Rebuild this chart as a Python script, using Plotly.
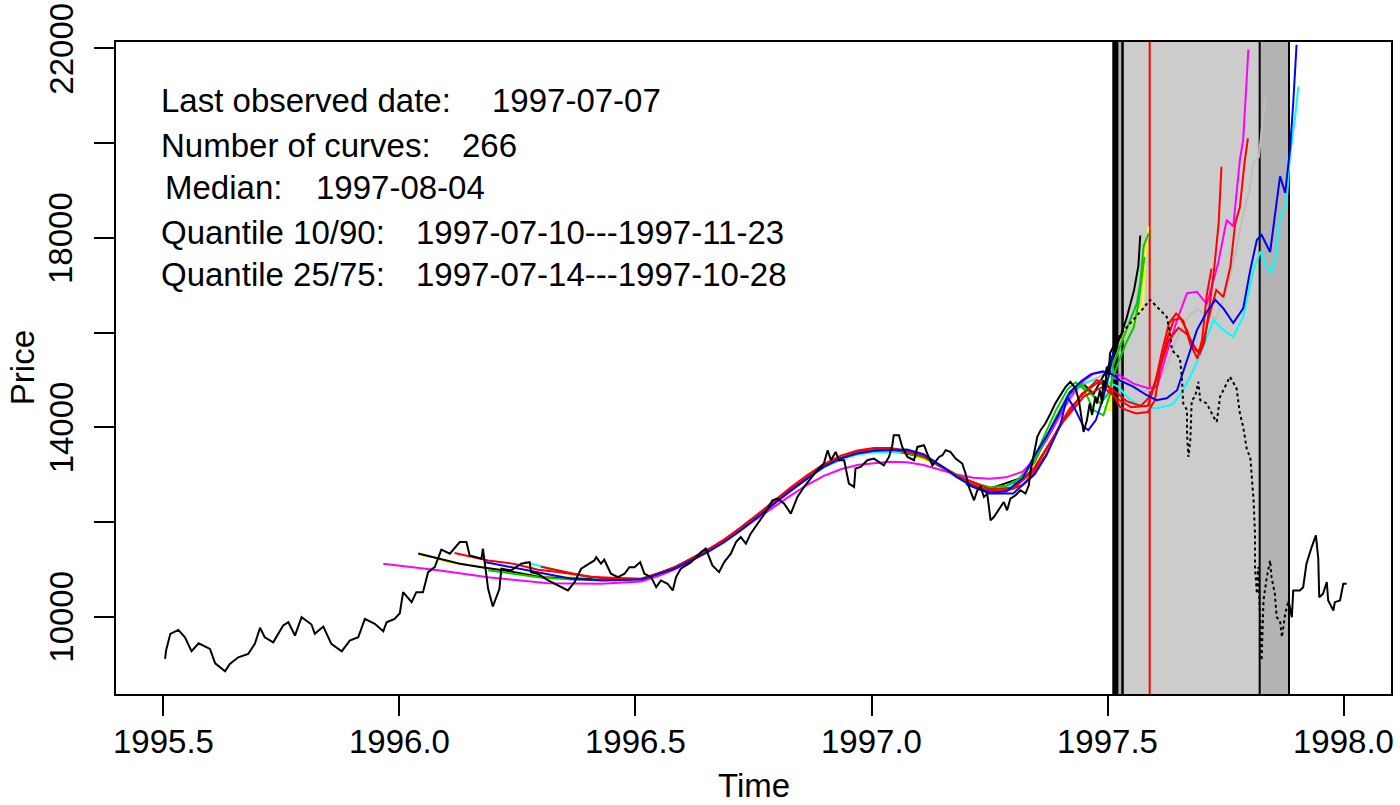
import plotly.graph_objects as go

# ---------------- data ----------------
# observed price (decimal year, price)
price_obs = [
    (1995.504, 9105), (1995.506, 9280), (1995.515, 9634), (1995.532, 9718), (1995.546, 9562),
    (1995.560, 9266), (1995.575, 9435), (1995.599, 9316), (1995.610, 9012), (1995.631, 8842),
    (1995.641, 8999), (1995.659, 9139), (1995.680, 9211), (1995.694, 9422), (1995.705, 9761),
    (1995.715, 9562), (1995.733, 9456), (1995.754, 9810), (1995.765, 9879), (1995.779, 9598),
    (1995.793, 9985), (1995.814, 9831), (1995.821, 9634), (1995.839, 9788), (1995.856, 9422),
    (1995.878, 9266), (1995.895, 9492), (1995.913, 9562), (1995.927, 9951), (1995.948, 9845),
    (1995.966, 9689), (1995.973, 9879), (1995.990, 9951), (1996.001, 10070), (1996.008, 10514),
    (1996.026, 10303), (1996.036, 10514), (1996.050, 10514), (1996.061, 10938), (1996.075, 11043),
    (1996.089, 11412), (1996.107, 11327), (1996.128, 11573), (1996.142, 11573), (1996.149, 11291),
    (1996.174, 11221), (1996.177, 11433), (1996.188, 10586), (1996.198, 10212), (1996.212, 10586),
    (1996.216, 11010), (1996.237, 10974), (1996.258, 11115), (1996.276, 11149), (1996.279, 10938),
    (1996.293, 10904), (1996.315, 10762), (1996.336, 10656), (1996.357, 10550), (1996.371, 10726),
    (1996.385, 11010), (1996.413, 11185), (1996.417, 11255), (1996.427, 11115), (1996.434, 11200),
    (1996.448, 10904), (1996.463, 10832), (1996.477, 10904), (1996.487, 11043), (1996.498, 11043),
    (1996.510, 11149), (1996.519, 10904), (1996.533, 10832), (1996.544, 10620), (1996.554, 10762),
    (1996.568, 10692), (1996.579, 10550), (1996.586, 10832), (1996.596, 11010), (1996.618, 11149),
    (1996.639, 11361), (1996.649, 11433), (1996.663, 11079), (1996.677, 10938), (1996.688, 11149),
    (1996.702, 11327), (1996.713, 11573), (1996.723, 11678), (1996.734, 11538), (1996.744, 11750),
    (1996.759, 11962), (1996.776, 12207), (1996.790, 12455), (1996.801, 12491), (1996.815, 12385),
    (1996.829, 12173), (1996.843, 12525), (1996.857, 12737), (1996.871, 12914), (1996.885, 13090),
    (1996.899, 13232), (1996.907, 13513), (1996.914, 13302), (1996.924, 13477), (1996.931, 13302),
    (1996.942, 13302), (1996.952, 12809), (1996.963, 12737), (1996.966, 13126), (1996.977, 13160),
    (1996.991, 13302), (1997.005, 13337), (1997.026, 13196), (1997.037, 13371), (1997.044, 13619),
    (1997.047, 13831), (1997.058, 13831), (1997.065, 13583), (1997.076, 13371), (1997.090, 13302),
    (1997.097, 13583), (1997.111, 13619), (1997.118, 13443), (1997.129, 13196), (1997.143, 13371),
    (1997.150, 13407), (1997.157, 13513), (1997.167, 13477), (1997.178, 13337), (1997.192, 13232),
    (1997.199, 13020), (1997.206, 12737), (1997.217, 12455), (1997.224, 12667), (1997.231, 12737),
    (1997.238, 12525), (1997.245, 12597), (1997.252, 12032), (1997.259, 12102), (1997.270, 12279),
    (1997.280, 12419), (1997.287, 12243), (1997.294, 12491), (1997.305, 12561), (1997.315, 12667),
    (1997.326, 12597), (1997.333, 12772), (1997.337, 13090), (1997.343, 13371), (1997.351, 13795),
    (1997.358, 13937), (1997.368, 14078), (1997.379, 14290), (1997.389, 14501), (1997.400, 14677),
    (1997.411, 14853), (1997.421, 14959), (1997.432, 14819), (1997.439, 14571), (1997.449, 13900),
    (1997.456, 14148), (1997.462, 14500), (1997.467, 14254), (1997.474, 14650), (1997.477, 14501),
    (1997.484, 14783), (1997.488, 14500), (1997.491, 14995), (1997.495, 14800), (1997.498, 15276),
    (1997.502, 15100), (1997.505, 15560), (1997.510, 15666),
]

# price inside the prediction window (dotted)
price_window = [
    (1997.510, 15666), (1997.526, 15947), (1997.558, 16307), (1997.590, 16688), (1997.625, 16334),
    (1997.632, 15983), (1997.636, 15630), (1997.653, 15454), (1997.657, 15065), (1997.660, 14502),
    (1997.668, 14360), (1997.668, 13867), (1997.671, 13372), (1997.675, 13725), (1997.678, 14571),
    (1997.685, 14641), (1997.692, 14959), (1997.696, 14571), (1997.710, 14502), (1997.724, 14218),
    (1997.731, 14112), (1997.738, 14641), (1997.752, 14925), (1997.759, 15065), (1997.773, 14819),
    (1997.780, 14290), (1997.787, 14006), (1997.795, 13513), (1997.802, 13372), (1997.809, 12455),
    (1997.812, 11750), (1997.812, 11043), (1997.816, 10480), (1997.819, 11043), (1997.826, 9069),
    (1997.830, 10339), (1997.837, 10832), (1997.844, 11185), (1997.847, 10832), (1997.854, 10480),
    (1997.858, 9985), (1997.865, 9915), (1997.869, 9562), (1997.876, 10057), (1997.883, 10339),
]

# price after the window (solid)
price_after = [
    (1997.883, 10339), (1997.890, 9985), (1997.893, 10550), (1997.907, 10550), (1997.914, 10620),
    (1997.921, 11115), (1997.932, 11467), (1997.941, 11714), (1997.946, 11221), (1997.948, 10409),
    (1997.956, 10480), (1997.964, 10726), (1997.967, 10339), (1997.978, 10127), (1997.981, 10303),
    (1997.992, 10339), (1997.999, 10692), (1998.006, 10692),
]

# fitted curves (decimal year, price)
curve_gray = [
    (1997.300, 12750), (1997.345, 13300), (1997.400, 14300), (1997.445, 14900), (1997.490, 15100),
    (1997.530, 15000), (1997.570, 14750), (1997.600, 14800), (1997.625, 15300), (1997.647, 15900),
    (1997.668, 16300), (1997.689, 16500), (1997.710, 16350), (1997.730, 16300), (1997.752, 16900),
    (1997.773, 17800), (1997.787, 18500), (1997.800, 19000), (1997.809, 19590), (1997.820, 19700),
    (1997.830, 20640), (1997.835, 21000),
]
curve_yellow = [
    (1996.040, 11310), (1996.075, 11240), (1996.103, 11150), (1996.150, 11080), (1996.200, 11000),
    (1996.260, 10920), (1996.330, 10850), (1996.400, 10800), (1996.470, 10790), (1996.512, 10800),
    (1996.547, 10910), (1996.582, 11040), (1996.618, 11210), (1996.653, 11400), (1996.688, 11620),
    (1996.723, 11860), (1996.759, 12130), (1996.794, 12410), (1996.829, 12690), (1996.864, 12940),
    (1996.899, 13160), (1996.935, 13330), (1996.970, 13440), (1997.005, 13490), (1997.040, 13490),
    (1997.075, 13440), (1997.110, 13320), (1997.145, 13160), (1997.180, 12960), (1997.215, 12800),
    (1997.250, 12710), (1997.285, 12740), (1997.320, 12920), (1997.345, 13300), (1997.370, 13800),
    (1997.400, 14400), (1997.425, 14800), (1997.445, 14930), (1997.465, 14800), (1997.480, 14500),
    (1997.495, 14400), (1997.505, 14360), (1997.512, 15350), (1997.526, 15700), (1997.537, 16050),
    (1997.558, 16265), (1997.575, 16620), (1997.578, 17320), (1997.586, 18240),
]
curve_black = [
    (1996.040, 11330), (1996.082, 11230), (1996.128, 11115), (1996.174, 11040), (1996.230, 10960),
    (1996.300, 10830), (1996.400, 10790), (1996.512, 10790), (1996.582, 11030), (1996.688, 11600),
    (1996.794, 12400), (1996.899, 13170), (1996.970, 13460), (1997.040, 13510), (1997.110, 13370),
    (1997.180, 12970), (1997.250, 12700), (1997.320, 12940), (1997.370, 13780), (1997.420, 14700),
    (1997.445, 14950), (1997.470, 14700), (1997.500, 15250), (1997.530, 16000), (1997.540, 16300),
    (1997.556, 16900), (1997.565, 17400), (1997.569, 18050),
]
curve_cyan = [
    (1996.265, 11150), (1996.307, 11040), (1996.364, 10900), (1996.430, 10790), (1996.512, 10790),
    (1996.547, 10880), (1996.582, 11000), (1996.618, 11180), (1996.653, 11370), (1996.688, 11590),
    (1996.723, 11840), (1996.759, 12120), (1996.794, 12400), (1996.829, 12680), (1996.864, 12920),
    (1996.899, 13150), (1996.935, 13320), (1996.970, 13420), (1997.005, 13470), (1997.040, 13480),
    (1997.075, 13460), (1997.110, 13360), (1997.145, 13180), (1997.180, 12940), (1997.215, 12760),
    (1997.250, 12680), (1997.285, 12720), (1997.320, 12930), (1997.345, 13330), (1997.370, 13780),
    (1997.395, 14250), (1997.420, 14650), (1997.445, 14900), (1997.470, 15000), (1997.500, 14950),
    (1997.523, 14850), (1997.540, 14650), (1997.560, 14500), (1997.583, 14420), (1997.604, 14400),
    (1997.636, 14470), (1997.655, 14700), (1997.675, 15065), (1997.703, 15700), (1997.724, 16265),
    (1997.745, 16053), (1997.766, 15911), (1997.787, 16334), (1997.809, 17323), (1997.823, 17710),
    (1997.844, 17253), (1997.854, 17465), (1997.865, 18451), (1997.879, 18734), (1997.886, 19721),
    (1997.897, 20567), (1997.904, 21202),
]
curve_magenta = [
    (1995.966, 11115), (1996.082, 10975), (1996.188, 10830), (1996.315, 10705), (1996.427, 10690),
    (1996.512, 10740), (1996.547, 10850), (1996.582, 10990), (1996.618, 11170), (1996.653, 11370),
    (1996.688, 11590), (1996.723, 11830), (1996.759, 12080), (1996.794, 12330), (1996.829, 12560),
    (1996.864, 12780), (1996.899, 12970), (1996.935, 13110), (1996.970, 13200), (1997.005, 13240),
    (1997.040, 13270), (1997.075, 13260), (1997.110, 13200), (1997.145, 13100), (1997.180, 13000),
    (1997.215, 12930), (1997.250, 12910), (1997.285, 12940), (1997.320, 13060), (1997.345, 13320),
    (1997.370, 13720), (1997.395, 14170), (1997.420, 14620), (1997.445, 14950), (1997.470, 15130),
    (1997.500, 15180), (1997.525, 15100), (1997.555, 14920), (1997.587, 14820), (1997.605, 14860),
    (1997.625, 15560), (1997.647, 16265), (1997.668, 16830), (1997.689, 16860), (1997.710, 16600),
    (1997.734, 17460), (1997.752, 18380), (1997.766, 18240), (1997.780, 19650), (1997.787, 20070),
    (1997.795, 21340), (1997.798, 21980),
]
curve_green2 = [
    (1997.300, 12800), (1997.345, 13250), (1997.390, 14200), (1997.420, 14750), (1997.445, 14900),
    (1997.465, 14700), (1997.485, 14500), (1997.500, 14700), (1997.520, 15300), (1997.540, 15800),
    (1997.555, 16100), (1997.565, 16600), (1997.572, 17200), (1997.578, 17600),
]
curve_green1 = [
    (1996.188, 10975), (1996.244, 10900), (1996.294, 10830), (1996.364, 10780), (1996.430, 10770),
    (1996.512, 10800), (1996.547, 10900), (1996.582, 11040), (1996.618, 11210), (1996.653, 11400),
    (1996.688, 11620), (1996.723, 11860), (1996.759, 12130), (1996.794, 12410), (1996.829, 12690),
    (1996.864, 12950), (1996.899, 13180), (1996.935, 13360), (1996.970, 13470), (1997.005, 13520),
    (1997.040, 13520), (1997.075, 13470), (1997.110, 13360), (1997.145, 13200), (1997.180, 13000),
    (1997.215, 12830), (1997.250, 12730), (1997.285, 12760), (1997.320, 12950), (1997.345, 13350),
    (1997.365, 13800), (1997.390, 14350), (1997.415, 14800), (1997.432, 14950), (1997.450, 14800),
    (1997.470, 14360), (1997.491, 14250), (1997.505, 14700), (1997.512, 15350), (1997.533, 15910),
    (1997.548, 16265), (1997.562, 16620), (1997.569, 17040), (1997.576, 17820), (1997.587, 18100),
]
curve_red3 = [
    (1997.200, 12850), (1997.250, 12640), (1997.300, 12700), (1997.345, 13100), (1997.400, 14050),
    (1997.450, 14650), (1997.490, 14850), (1997.520, 14600), (1997.550, 14420), (1997.585, 14450),
    (1997.600, 14900), (1997.615, 15600), (1997.630, 16200), (1997.645, 16400), (1997.660, 16250),
    (1997.675, 15750), (1997.690, 15450), (1997.700, 15850), (1997.710, 16800), (1997.720, 17350),
]
curve_red2 = [
    (1996.300, 11050), (1996.400, 10840), (1996.512, 10790), (1996.582, 11020), (1996.688, 11610),
    (1996.794, 12430), (1996.899, 13200), (1996.970, 13490), (1997.040, 13540), (1997.110, 13400),
    (1997.180, 12980), (1997.250, 12690), (1997.300, 12720), (1997.345, 13150), (1997.395, 13950),
    (1997.445, 14700), (1997.480, 14950), (1997.510, 14800), (1997.540, 14550), (1997.570, 14450),
    (1997.590, 14650), (1997.610, 15250), (1997.630, 15850), (1997.650, 16100), (1997.670, 15950),
    (1997.690, 15600), (1997.700, 15700), (1997.715, 16350), (1997.730, 16900), (1997.745, 16750),
    (1997.760, 17400), (1997.770, 18300), (1997.780, 18650), (1997.790, 19600), (1997.797, 20100),
]
curve_red1 = [
    (1996.117, 11340), (1996.153, 11260), (1996.188, 11185), (1996.244, 11110), (1996.294, 10990),
    (1996.336, 10940), (1996.392, 10870), (1996.430, 10810), (1996.512, 10800), (1996.547, 10900),
    (1996.582, 11040), (1996.618, 11220), (1996.653, 11410), (1996.688, 11630), (1996.723, 11880),
    (1996.759, 12160), (1996.794, 12450), (1996.829, 12730), (1996.864, 12990), (1996.899, 13220),
    (1996.935, 13400), (1996.970, 13510), (1997.005, 13560), (1997.040, 13560), (1997.075, 13500),
    (1997.110, 13380), (1997.145, 13190), (1997.180, 12960), (1997.215, 12760), (1997.250, 12650),
    (1997.285, 12650), (1997.320, 12780), (1997.345, 13050), (1997.370, 13420), (1997.400, 14080),
    (1997.420, 14400), (1997.449, 14710), (1997.477, 14995), (1997.498, 14925), (1997.510, 14710),
    (1997.526, 14430), (1997.540, 14360), (1997.560, 14290), (1997.585, 14320), (1997.600, 14570),
    (1997.610, 15200), (1997.625, 15840), (1997.640, 16265), (1997.654, 16300), (1997.668, 16050),
    (1997.680, 15700), (1997.695, 15550), (1997.705, 15800), (1997.715, 16500), (1997.725, 17300),
    (1997.735, 18300), (1997.741, 19500),
]
curve_blue2 = [
    (1997.200, 12800), (1997.250, 12600), (1997.300, 12600), (1997.345, 13000), (1997.370, 13400),
    (1997.400, 14050), (1997.414, 14640), (1997.430, 14400), (1997.449, 14006), (1997.459, 13937),
    (1997.475, 14150), (1997.490, 14600), (1997.505, 15200), (1997.512, 15600),
]
curve_blue1 = [
    (1996.181, 11150), (1996.238, 11040), (1996.294, 10940), (1996.364, 10800), (1996.430, 10760),
    (1996.512, 10780), (1996.547, 10890), (1996.582, 11010), (1996.618, 11185), (1996.653, 11360),
    (1996.688, 11570), (1996.723, 11820), (1996.759, 12100), (1996.794, 12385), (1996.829, 12665),
    (1996.864, 12915), (1996.899, 13160), (1996.935, 13340), (1996.970, 13445), (1997.005, 13500),
    (1997.040, 13515), (1997.075, 13530), (1997.110, 13430), (1997.145, 13200), (1997.180, 12950),
    (1997.215, 12740), (1997.250, 12620), (1997.285, 12640), (1997.320, 12920), (1997.345, 13400),
    (1997.370, 13800), (1997.395, 14250), (1997.420, 14740), (1997.445, 14980), (1997.465, 15120),
    (1997.490, 15180), (1997.510, 15110), (1997.526, 14990), (1997.555, 14850), (1997.582, 14680),
    (1997.603, 14570), (1997.625, 14610), (1997.647, 14780), (1997.668, 15420), (1997.689, 16050),
    (1997.710, 16440), (1997.728, 16690), (1997.745, 16510), (1997.766, 16200), (1997.787, 16510),
    (1997.802, 17320), (1997.816, 17960), (1997.826, 18060), (1997.844, 17700), (1997.854, 18450),
    (1997.865, 19300), (1997.876, 18950), (1997.886, 19860), (1997.893, 20850), (1997.900, 22080),
]

curves = [
    ("gray", curve_gray, "#BEBEBE"),
    ("yellow", curve_yellow, "#FFFF00"),
    ("black", curve_black, "#000000"),
    ("cyan", curve_cyan, "#00FFFF"),
    ("magenta", curve_magenta, "#FF00FF"),
    ("green2", curve_green2, "#00CD00"),
    ("green1", curve_green1, "#00CD00"),
    ("red3", curve_red3, "#FF0000"),
    ("red2", curve_red2, "#FF0000"),
    ("red1", curve_red1, "#FF0000"),
    ("blue2", curve_blue2, "#0000FF"),
    ("blue1", curve_blue1, "#0000FF"),
]

# critical-time statistics (decimal years as drawn)
last_obs = 1997.514
q10 = 1997.5195
q25 = 1997.5315
median_tc = 1997.589
q75 = 1997.8219
q90 = 1997.884

x_ticks = [1995.5, 1996.0, 1996.5, 1997.0, 1997.5, 1998.0]
x_tick_labels = ["1995.5", "1996.0", "1996.5", "1997.0", "1997.5", "1998.0"]
y_ticks = [10000, 12000, 14000, 16000, 18000, 20000, 22000]
y_tick_labels = ["10000", "14000", "18000", "22000"]

info_labels = ["Last observed date:", "Number of curves:", "Median:", "Quantile 10/90:", "Quantile 25/75:"]
info_values = ["1997-07-07", "266", "1997-08-04", "1997-07-10---1997-11-23", "1997-07-14---1997-10-28"]
info_label_x = [1995.491, 1995.491, 1995.500, 1995.491, 1995.491]
info_value_x = [1996.192, 1996.129, 1995.820, 1996.031, 1996.031]
info_y = [20891, 19961, 19053, 18123, 17215]

# ---------------- figure ----------------
FONT = "Liberation Sans, Arial, sans-serif"
FS = 33
X_RANGE = [1995.4, 1998.1]
Y_RANGE = [8363, 22137]

fig = go.Figure()

# shaded windows
fig.add_shape(type="rect", xref="x", yref="paper", x0=q10, x1=q90, y0=0, y1=1,
              fillcolor="#B3B3B3", line_width=0, layer="below")
fig.add_shape(type="rect", xref="x", yref="paper", x0=q25, x1=q75, y0=0, y1=1,
              fillcolor="#CCCCCC", line_width=0, layer="below")
# vertical lines
for xv, w, c in [(last_obs, 4, "black"), (q10, 3, "black"), (q25, 2.5, "black"),
                 (q75, 2, "black"), (q90, 2, "black"), (median_tc, 2, "#FF0000")]:
    fig.add_shape(type="line", xref="x", yref="paper", x0=xv, x1=xv, y0=0, y1=1,
                  line=dict(color=c, width=w), layer="below")

for name, pts, col in curves:
    fig.add_trace(go.Scatter(x=[p[0] for p in pts], y=[p[1] for p in pts], mode="lines",
                             line=dict(color=col, width=2), name=name, hoverinfo="skip"))

fig.add_trace(go.Scatter(x=[p[0] for p in price_obs], y=[p[1] for p in price_obs], mode="lines",
                         line=dict(color="black", width=2), name="price"))
fig.add_trace(go.Scatter(x=[p[0] for p in price_window], y=[p[1] for p in price_window], mode="lines",
                         line=dict(color="black", width=2, dash="3px,3px"), name="price (window)"))
fig.add_trace(go.Scatter(x=[p[0] for p in price_after], y=[p[1] for p in price_after], mode="lines",
                         line=dict(color="black", width=2), name="price (after)"))

annotations = []
for xv, lab in zip(x_ticks, x_tick_labels):
    annotations.append(dict(x=xv, xref="x", y=-0.0736, yref="paper", text=lab, showarrow=False,
                            xanchor="center", yanchor="middle", font=dict(size=FS, color="black", family=FONT)))
for lab in y_tick_labels:
    annotations.append(dict(x=-0.043, xref="paper", y=float(lab), yref="y", text=lab, showarrow=False,
                            textangle=-90, xanchor="center", yanchor="middle",
                            font=dict(size=FS, color="black", family=FONT)))
annotations.append(dict(x=0.5, xref="paper", y=-0.141, yref="paper", text="Time", showarrow=False,
                        xanchor="center", yanchor="middle", font=dict(size=FS, color="black", family=FONT)))
annotations.append(dict(x=-0.0736, xref="paper", y=0.5, yref="paper", text="Price", showarrow=False,
                        textangle=-90, xanchor="center", yanchor="middle",
                        font=dict(size=FS, color="black", family=FONT)))
for lab, val, lx, vx, yy in zip(info_labels, info_values, info_label_x, info_value_x, info_y):
    annotations.append(dict(x=lx, xref="x", y=yy, yref="y", text=lab, showarrow=False,
                            xanchor="left", yanchor="middle", font=dict(size=FS, color="black", family=FONT)))
    annotations.append(dict(x=vx, xref="x", y=yy, yref="y", text=val, showarrow=False,
                            xanchor="left", yanchor="middle", font=dict(size=FS, color="black", family=FONT)))

fig.update_layout(
    width=1400, height=805,
    margin=dict(l=116, r=7, t=42, b=111),
    paper_bgcolor="white", plot_bgcolor="white",
    showlegend=False,
    annotations=annotations,
    xaxis=dict(range=X_RANGE, showgrid=False, zeroline=False, showline=True, mirror=True,
               linecolor="black", linewidth=2, ticks="outside", ticklen=20, tickwidth=1.5,
               tickcolor="black", tickvals=x_ticks, showticklabels=False),
    yaxis=dict(range=Y_RANGE, showgrid=False, zeroline=False, showline=True, mirror=True,
               linecolor="black", linewidth=2, ticks="outside", ticklen=20, tickwidth=1.5,
               tickcolor="black", tickvals=y_ticks, showticklabels=False),
)

# remove the default page margin so the 1400x805 figure fills the window exactly
fig.write_html("out.html",
               config={"displayModeBar": False},
               post_script="document.body.style.margin='0';document.body.style.overflow='hidden';")
